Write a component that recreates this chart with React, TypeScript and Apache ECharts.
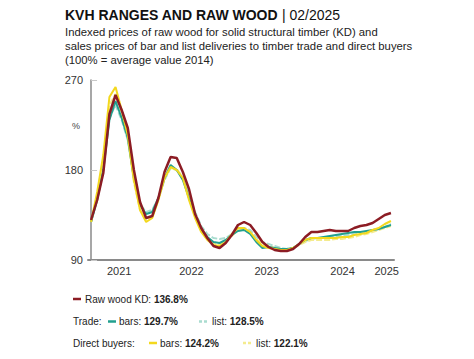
import React, { useEffect, useRef } from 'react';
import * as echarts from 'echarts';

// Monthly values, Jan 2021 .. Feb 2025 (index 0..49)
const rawWoodKD = [130,150,177,236,255,240,222,180,148,132,134,152,178,193,192,178,161,136,122,112,104,102,107,115,125,128,125,117,108,103,100,99,99,101,106,113,118,118,119,120,119,119,119,122,124,125,127,131,135,137];
const tradeBars = [128,150,180,230,249,232,212,172,145,136,138,152,172,185,180,170,152,135,120,113,108,107,110,115,119,120,116,108,102,103,102,101,101,102,106,110,112,112,113,114,115,116,117,118,118,119,120,121,123,125];
const tradeList = [128,152,185,232,245,230,210,172,146,138,140,152,170,182,180,172,155,138,124,116,112,111,112,116,120,122,120,113,108,106,104,102,101,102,106,109,111,112,112,113,114,114,115,116,117,118,119,121,123,126];
const directBars = [128,158,195,253,263,240,215,170,140,128,132,150,172,183,180,172,150,132,118,110,105,104,108,116,122,122,118,110,104,102,101,100,100,102,106,110,112,112,112,112,112,113,113,115,116,117,120,122,126,129];
const directList = [128,155,190,245,256,236,212,168,140,130,133,150,172,182,181,173,152,134,120,112,107,106,108,114,120,121,118,111,106,104,102,101,100,102,105,108,110,110,110,110,111,111,112,113,115,116,118,120,122,124];

const yearLabels = ['2021', '2022', '2023', '2024', '2025'];
const yearLabelPos = [4.6, 16.4, 28.7, 41.1, 48.3];
const yTicks = [90, 180, 270];

const legendRaw = '136.8%';
const legendTradeBars = '129.7%';
const legendTradeList = '128.5%';
const legendDirectBars = '124.2%';
const legendDirectList = '122.1%';

const C_RED = '#8c1c24';
const C_TEAL = '#21a08f';
const C_TEAL_L = '#a9dccf';
const C_YEL = '#f3d81e';
const C_YEL_L = '#f4eb8e';

const FONT = '"Liberation Sans", Arial, sans-serif';

const toPairs = (arr: number[]) => arr.map((v, i) => [i, v]);

export default function App() {
  const ref = useRef<HTMLDivElement>(null);
  useEffect(() => {
    if (!ref.current) return;
    const chart = echarts.init(ref.current, undefined, { renderer: 'svg' });
    const txt = (x: number, y: number, text: string, rich: any, extra: any = {}) => ({
      type: 'text',
      x,
      y,
      style: { text, rich, fontFamily: FONT, verticalAlign: 'middle', fill: '#222', ...extra },
    });
    const legRich = {
      n: { fontSize: 10, fontFamily: FONT, fill: '#222' },
      b: { fontSize: 10, fontFamily: FONT, fontWeight: 'bold', fill: '#222' },
    };
    const mark = (x: number, y: number, color: string, dashed: boolean) => ({
      type: 'line',
      shape: { x1: x, y1: y, x2: x + 8, y2: y },
      style: { stroke: color, lineWidth: 2.5, lineDash: dashed ? [3, 2] : null },
    });
    chart.setOption({
      animation: false,
      grid: { left: 88, right: 80, top: 80, bottom: 99 },
      xAxis: {
        type: 'value',
        min: -0.5,
        max: 49.5,
        splitLine: { show: false },
        axisLine: { show: true, lineStyle: { color: '#8a8a8a', width: 2 } },
        axisTick: { show: false },
        axisLabel: {
          customValues: yearLabelPos,
          fontSize: 11,
          color: '#333',
          fontFamily: FONT,
          margin: 5,
          formatter: (v: number) => {
            const k = yearLabelPos.findIndex((p) => Math.abs(p - v) < 0.01);
            return k >= 0 ? yearLabels[k] : '';
          },
        },
      },
      yAxis: {
        type: 'value',
        min: 90,
        max: 270,
        interval: 90,
        splitLine: { show: false },
        axisLine: { show: true, lineStyle: { color: '#8a8a8a', width: 1.5 } },
        axisTick: { show: true, inside: true, length: 6, lineStyle: { color: '#c8c8c8' }, customValues: yTicks },
        axisLabel: { fontSize: 11, color: '#333', fontFamily: FONT, margin: 5 },
      },
      series: [
        { name: 'Trade list', type: 'line', data: toPairs(tradeList), symbol: 'none', lineStyle: { color: C_TEAL_L, width: 2, type: [6, 2] } },
        { name: 'Direct list', type: 'line', data: toPairs(directList), symbol: 'none', lineStyle: { color: C_YEL_L, width: 2, type: [6, 2] } },
        { name: 'Trade bars', type: 'line', data: toPairs(tradeBars), symbol: 'none', lineStyle: { color: C_TEAL, width: 2 } },
        { name: 'Direct bars', type: 'line', data: toPairs(directBars), symbol: 'none', lineStyle: { color: C_YEL, width: 2 } },
        { name: 'Raw wood KD', type: 'line', data: toPairs(rawWoodKD), symbol: 'none', lineStyle: { color: C_RED, width: 2.5 } },
      ],
      graphic: [
        txt(65, 15, '{b|KVH RANGES AND RAW WOOD}{n| | 02/2025}', {
          b: { fontSize: 14, fontWeight: 'bold', fontFamily: FONT, fill: '#111' },
          n: { fontSize: 14, fontFamily: FONT, fill: '#111' },
        }),
        txt(65, 31.5, 'Indexed prices of raw wood for solid structural timber (KD) and', null, { fontSize: 11.3 }),
        txt(65, 45.5, 'sales prices of bar and list deliveries to timber trade and direct buyers', null, { fontSize: 11.3 }),
        txt(65, 59.5, '(100% = average value 2014)', null, { fontSize: 11.3 }),
        txt(72, 126, '%', null, { fontSize: 9, fill: '#444' }),
        mark(73, 299, C_RED, false),
        txt(85, 299, '{n|Raw wood KD: }{b|' + legendRaw + '}', legRich),
        txt(73, 321.5, '{n|Trade:}', legRich),
        mark(108, 321.5, C_TEAL, false),
        txt(119, 321.5, '{n|bars: }{b|' + legendTradeBars + '}', legRich),
        mark(199, 321.5, C_TEAL_L, true),
        txt(212, 321.5, '{n|list: }{b|' + legendTradeList + '}', legRich),
        txt(73, 343, '{n|Direct buyers:}', legRich),
        mark(149, 343, C_YEL, false),
        txt(160, 343, '{n|bars: }{b|' + legendDirectBars + '}', legRich),
        mark(243, 343, C_YEL_L, true),
        txt(256, 343, '{n|list: }{b|' + legendDirectList + '}', legRich),
      ],
    });
    return () => chart.dispose();
  }, []);
  return <div ref={ref} style={{ position: 'fixed', left: 0, top: 0, width: 474, height: 359, background: '#fff' }} />;
}
